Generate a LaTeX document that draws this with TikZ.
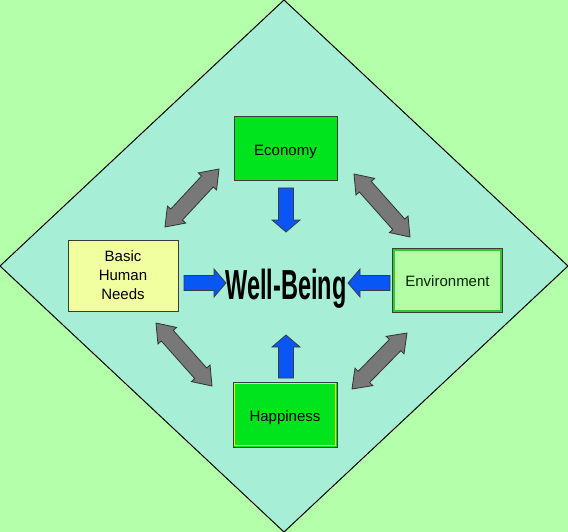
\documentclass[tikz,border=0pt]{standalone}
\usepackage{fontspec}
\setmainfont{Liberation Sans}
\usetikzlibrary{calc}
\definecolor{bg}{RGB}{179,255,170}
\definecolor{dia}{RGB}{166,238,214}
\definecolor{boxgreen}{RGB}{0,228,30}
\definecolor{lightgreen}{RGB}{180,255,166}
\definecolor{envborder}{RGB}{50,200,50}
\definecolor{lightyellow}{RGB}{242,255,160}
\definecolor{hapborder}{RGB}{240,240,0}
\definecolor{blockblue}{RGB}{10,85,245}
\definecolor{blockgray}{RGB}{120,120,120}
\definecolor{edge}{RGB}{60,60,60}
% single block arrow: #1 from, #2 to, #3 shaft half, #4 head half, #5 head length, #6 style
\newcommand\singleblock[6]{%
  \path[#6] let \p0=($(#2)!#5!(#1)$) in
    ($(#1)!#3!90:(#2)$) -- ($(\p0)!#3!90:(#2)$) -- ($(\p0)!#4!90:(#2)$) -- (#2)
    -- ($(\p0)!#4!-90:(#2)$) -- ($(\p0)!#3!-90:(#2)$) -- ($(#1)!#3!-90:(#2)$) -- cycle;}
% double block arrow
\newcommand\doubleblock[6]{%
  \path[#6] let \p0=($(#2)!#5!(#1)$), \p9=($(#1)!#5!(#2)$) in
    (#1) -- ($(\p9)!#4!90:(#2)$) -- ($(\p9)!#3!90:(#2)$) -- ($(\p0)!#3!90:(#2)$)
    -- ($(\p0)!#4!90:(#2)$) -- (#2) -- ($(\p0)!#4!-90:(#2)$) -- ($(\p0)!#3!-90:(#2)$)
    -- ($(\p9)!#3!-90:(#2)$) -- ($(\p9)!#4!-90:(#2)$) -- cycle;}
\begin{document}
\begin{tikzpicture}[x=1pt,y=-1pt,
  box/.style={draw=edge, line width=1pt, minimum width=103pt, minimum height=64pt,
    inner sep=0pt, align=center, font=\fontsize{15}{19}\selectfont},
  boxtext/.style={font=\fontsize{15}{19}\selectfont, inner sep=0pt},
  bluearrow/.style={fill=blockblue, draw=edge, line width=0.8pt, line join=miter},
  grayarrow/.style={fill=blockgray, draw=black!80, line width=0.8pt, line join=miter}]
\fill[bg] (0,0) rectangle (568,532);
\useasboundingbox (0,0) rectangle (568,532);
\coordinate (T) at (284,0);
\coordinate (L) at (0,266);
\coordinate (R) at (568,266);
\coordinate (B) at (284,532);
\draw[fill=dia, line width=1pt] (T) -- (R) -- (B) -- (L) -- cycle;

\node[box, fill=boxgreen] (eco) at (285.5,149) {};
\node[boxtext] at ($(eco.center)+(0,2.5)$) {Economy};
\node[box, fill=lightyellow, minimum width=110pt, minimum height=71pt] (bhn) at (123,275.5) {Basic\\Human\\Needs};
\node[box, fill=lightgreen, minimum width=110pt, minimum height=64pt] (env) at (447.5,280) {};
\draw[envborder, line width=2pt] ($(env.north west)+(2,2)$) rectangle ($(env.south east)+(-2,-2)$);
\node[boxtext, text=black!85!green] at ($(env.center)+(0,1.5)$) {Environment};
\node[box, fill=boxgreen, minimum width=104pt, minimum height=65pt] (hap) at (285,414.5) {};
\draw[hapborder, line width=1.5pt] ($(hap.north west)+(2,2)$) rectangle ($(hap.south east)+(-2,-2)$);
\node[boxtext] at ($(hap.center)+(0,3)$) {Happiness};

\node[font=\bfseries\fontsize{42}{42}\selectfont, anchor=base, inner sep=0pt] (wb) at (286,299) {\scalebox{0.56}[1]{Well-Being}};

% blue arrows
\coordinate (e1) at (286,188); \coordinate (e2) at (286,232);
\coordinate (b1) at (184,283); \coordinate (b2) at (226,283);
\coordinate (n1) at (390,283); \coordinate (n2) at (348,283);
\coordinate (h1) at (286,378); \coordinate (h2) at (286,335);
\singleblock{e1}{e2}{7.5pt}{14pt}{12pt}{bluearrow}
\singleblock{b1}{b2}{7.5pt}{14pt}{12pt}{bluearrow}
\singleblock{n1}{n2}{7.5pt}{14pt}{12pt}{bluearrow}
\singleblock{h1}{h2}{7.5pt}{14pt}{12pt}{bluearrow}

% gray double arrows
\coordinate (g1a) at (165,227); \coordinate (g1b) at (219,169);
\coordinate (g2a) at (354,174); \coordinate (g2b) at (410,237);
\coordinate (g3a) at (156,323); \coordinate (g3b) at (212,386);
\coordinate (g4a) at (352,389); \coordinate (g4b) at (407,333);
\doubleblock{g1a}{g1b}{8pt}{12.5pt}{17pt}{grayarrow}
\doubleblock{g2a}{g2b}{8pt}{12.5pt}{17pt}{grayarrow}
\doubleblock{g3a}{g3b}{8pt}{12.5pt}{17pt}{grayarrow}
\doubleblock{g4a}{g4b}{8pt}{12.5pt}{17pt}{grayarrow}
\end{tikzpicture}
\end{document}
